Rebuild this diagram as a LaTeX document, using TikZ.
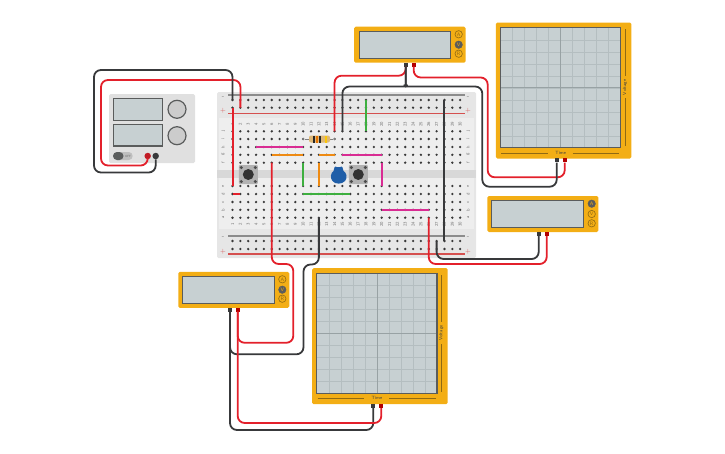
\documentclass[tikz,border=0pt]{standalone}
\usepackage{tikz}

\definecolor{gold}{HTML}{F3AE15}
\definecolor{golddark}{HTML}{8F6A14}
\definecolor{lcd}{HTML}{C7D0D2}
\definecolor{gridline}{HTML}{B4BEC0}
\definecolor{gridmid}{HTML}{98A2A4}
\definecolor{bezel}{HTML}{5A5C5C}
\definecolor{wirered}{HTML}{E3202B}
\definecolor{wireblack}{HTML}{38393B}
\definecolor{board}{HTML}{E6E6E6}
\definecolor{boardlight}{HTML}{EEEEEE}
\definecolor{groove}{HTML}{D8D8D8}
\definecolor{railred}{HTML}{D5504F}
\definecolor{wiremag}{HTML}{D92C93}
\definecolor{wireorange}{HTML}{EE8A12}
\definecolor{wiregreen}{HTML}{3DAF3F}
\definecolor{ledblue}{HTML}{1F5EA8}
\definecolor{restan}{HTML}{DDB878}

\begin{document}
\begin{tikzpicture}[x=1pt,y=-1pt]
\tikzset{panel/.style = {draw=none,fill=gold,rounded corners=1.5pt,inner sep=0pt}}
\tikzset{screen/.style = {draw=bezel,line width=1.2pt,fill=lcd,inner sep=0pt}}
\tikzset{dial/.style = {circle,draw=golddark,line width=0.6pt,minimum size=7.4pt,inner sep=0pt,font=\sffamily\fontsize{5}{5}\selectfont,text=golddark}}
\tikzset{dialon/.style = {dial,draw=bezel,fill=bezel,text=gold}}
\tikzset{blackpin/.style = {draw=none,fill=wireblack,minimum width=3.8pt,minimum height=4pt,inner sep=0pt}}
\tikzset{redpin/.style = {draw=none,fill=red!70!black,minimum width=3.8pt,minimum height=4pt,inner sep=0pt}}
\tikzset{hole/.style = {circle,fill=black!78,minimum size=2.6pt,inner sep=0pt}}
\tikzset{tiny/.style = {font=\sffamily\fontsize{4.5}{4.5}\selectfont,text=black!55,inner sep=0pt}}
\tikzset{scale label/.style = {font=\sffamily\fontsize{4.6}{4.6}\selectfont,text=black!75,inner sep=0pt}}
\tikzset{redwire/.style = {draw=wirered,line width=1.8pt,rounded corners=7pt}}
\tikzset{blackwire/.style = {draw=wireblack,line width=1.8pt,rounded corners=7pt}}
\tikzset{jumper/.style = {line width=2pt}}
\tikzset{knob/.style = {circle,draw=bezel,line width=1.2pt,fill=black!20,minimum size=18pt,inner sep=0pt}}
\tikzset{post/.style = {circle,minimum size=6.5pt,inner sep=0pt}}

\useasboundingbox (0,0) rectangle (725,453);

% breadboard
\node[fill=board,rounded corners=1.5pt,minimum width=259pt,minimum height=166pt,inner sep=0pt] (breadboard) at (346.5,175) {};
\fill[boardlight] (219,118) rectangle (474,170);
\fill[boardlight] (219,178) rectangle (474,229);
\fill[groove] (217,170) rectangle (476,178);
\draw[black!45,line width=1.1pt] (228,95) -- (465,95);
\draw[railred,line width=1.1pt] (228,113.5) -- (465,113.5);
\draw[black!45,line width=1.1pt] (228,236) -- (465,236);
\draw[railred,line width=1.1pt] (228,254) -- (465,254);
\foreach \col in {1,...,30} {
  \pgfmathsetmacro{\colx}{232.5+7.85*(\col-1)}
  \foreach \row/\rowy in {j/131.3,i/139,h/147,g/154.8,f/162.7,e/186,d/194,c/202,b/209.8,a/217.7,tm/100,tp/107.7,bm/241,bp/249} {
    \node[hole] (h\col\row) at (\colx,\rowy) {};
  }
  \node[tiny,rotate=90] (numtop\col) at (\colx,124) {\col};
  \node[tiny,rotate=90] (numbot\col) at (\colx,224.5) {\col};
}
\foreach \letter/\rowy in {j/131.3,i/139,h/147,g/154.8,f/162.7,e/186,d/194,c/202,b/209.8,a/217.7} {
  \node[tiny,rotate=90] (left\letter) at (223,\rowy) {\letter};
  \node[tiny,rotate=90] (right\letter) at (468,\rowy) {\letter};
}
\foreach \side/\sidex in {l/223,r/468} {
  \node[font=\sffamily\fontsize{7}{7}\selectfont,text=black!55,inner sep=0pt] (minustop\side) at (\sidex,98) {-};
  \node[font=\sffamily\fontsize{7}{7}\selectfont,text=railred,inner sep=0pt] (plustop\side) at (\sidex,111) {+};
  \node[font=\sffamily\fontsize{7}{7}\selectfont,text=black!55,inner sep=0pt] (minusbot\side) at (\sidex,238) {-};
  \node[font=\sffamily\fontsize{7}{7}\selectfont,text=railred,inner sep=0pt] (plusbot\side) at (\sidex,252) {+};
}

% power supply
\node[fill=black!12,rounded corners=1.5pt,minimum width=86pt,minimum height=69pt,inner sep=0pt] (supply) at (152,128.5) {};
\node[screen,minimum width=49pt,minimum height=21.5pt] (supplyA) at (137.7,109.5) {};
\node[screen,minimum width=49pt,minimum height=21.5pt] (supplyB) at (137.7,135.3) {};
\node[knob] (knobA) at (177,109.3) {};
\node[knob] (knobB) at (177,135.7) {};
\fill[black!25,rounded corners=4pt] (113,152) rectangle (132.7,160);
\fill[bezel,rounded corners=4pt] (113,152) rectangle (123.5,160);
\node[font=\sffamily\fontsize{3}{3}\selectfont,text=black!60,inner sep=0pt] (switchtext) at (128,156) {OFF};
\node[post,fill=wirered!85!black] (supplyred) at (147.7,156) {};
\node[post,fill=wireblack] (supplyblack) at (155.7,156) {};

% multimeters
\node[panel,minimum width=111.5pt,minimum height=36pt] (meterA) at (409.8,44.7) {};
\node[screen,minimum width=91.5pt,minimum height=26.6pt] (lcdA) at (404.9,44.8) {};
\node[dial] (meterAa) at (458.7,34.3) {A};
\node[dialon] (meterAv) at (458.7,44.7) {V};
\node[dial] (meterAr) at (458.7,53.7) {R};
\node[blackpin] (blackA) at (405.7,64.5) {};
\node[redpin] (redA) at (413.7,64.5) {};

\node[panel,minimum width=111pt,minimum height=36pt] (meterB) at (542.8,214) {};
\node[screen,minimum width=92pt,minimum height=26.6pt] (lcdB) at (537.5,214) {};
\node[dialon] (meterBa) at (591.7,203.7) {A};
\node[dial] (meterBv) at (591.7,214) {V};
\node[dial] (meterBr) at (591.7,223.3) {R};
\node[blackpin] (blackB) at (538.7,234) {};
\node[redpin] (redB) at (546.7,234) {};

\node[panel,minimum width=111pt,minimum height=36pt] (meterC) at (233.8,289.8) {};
\node[screen,minimum width=92pt,minimum height=26.6pt] (lcdC) at (228.7,289.8) {};
\node[dial] (meterCa) at (282.3,279.3) {A};
\node[dialon] (meterCv) at (282.3,289.7) {V};
\node[dial] (meterCr) at (282.3,298.7) {R};
\node[blackpin] (blackC) at (230,309.5) {};
\node[redpin] (redC) at (237.7,309.5) {};

% oscilloscopes
\foreach \sc/\sx/\sy in {A/495.7/22.3,B/312/268} {
  \node[panel,anchor=north west,minimum width=135.5pt,minimum height=136pt] (scope\sc) at (\sx,\sy) {};
  \begin{scope}[shift={(\sx,\sy)}]
    \fill[lcd] (4.8,5.4) rectangle (125,125.4);
    \foreach \g in {1,...,9} {
      \draw[gridline,line width=0.4pt] (4.8+12*\g,5.4) -- (4.8+12*\g,125.4);
      \draw[gridline,line width=0.4pt] (4.8,5.4+12*\g) -- (125,5.4+12*\g);
    }
    \draw[gridmid,line width=0.6pt] (64.9,5.4) -- (64.9,125.4);
    \draw[gridmid,line width=0.6pt] (4.8,65.4) -- (125,65.4);
    \draw[bezel,line width=1.2pt] (4.8,5.4) rectangle (125,125.4);
    \draw[golddark,line width=0.5pt] (5.5,130.5) -- (52,130.5);
    \draw[golddark,line width=0.5pt] (77,130.5) -- (123.5,130.5);
    \draw[golddark,line width=0.5pt] (129.3,7) -- (129.3,54);
    \draw[golddark,line width=0.5pt] (129.3,76) -- (129.3,124);
    \node[scale label] (time\sc) at (65,130.3) {Time};
    \node[scale label,rotate=90] (volt\sc) at (129.3,65) {Voltage};
  \end{scope}
}
\node[blackpin] (blackD) at (556.7,160.3) {};
\node[redpin] (redD) at (564.7,160.3) {};
\node[blackpin] (blackE) at (373.3,406) {};
\node[redpin] (redE) at (381.3,406) {};

% parts on the board
\foreach \nm/\bx in {A/248.3,B/358.3} {
  \node[fill=black!30,rounded corners=1pt,minimum size=19pt,inner sep=0pt] (button\nm) at (\bx,174.5) {};
  \foreach \dx/\dy in {-7/-7,7/-7,-7/7,7/7} {
    \fill[black!70] (\bx+\dx,174.5+\dy) circle (1.7pt);
  }
  \node[circle,fill=black!80,minimum size=11pt,inner sep=0pt] (cap\nm) at (\bx,174.5) {};
}
\node[circle,minimum size=14pt,inner sep=0pt] (led) at (338.7,175) {};
\fill[ledblue] (333.5,171) .. controls (334,168) and (335,166) .. (335.5,166.5) .. controls (336.5,167.5) and (340.5,167.5) .. (341.5,166.5) .. controls (342,166) and (343,168) .. (343.5,171) .. controls (347,173) and (347.5,178) .. (345,181) .. controls (342,184.5) and (335,184.5) .. (332.5,181) .. controls (330,178) and (330.5,173) .. (333.5,171) -- cycle;

\draw[black!50,line width=0.8pt] (h10i) -- (h14i);
\fill[black!50] (h10i) circle (1.3pt) (h14i) circle (1.3pt);
\node[fill=restan,rounded corners=2pt,minimum width=21pt,minimum height=7pt,inner sep=0pt] (resistor) at (319.5,139) {};
\fill[black!85] (313,135.5) rectangle (314.6,142.5);
\fill[orange!90!black] (316.2,135.5) rectangle (317.8,142.5);
\fill[black!85] (319.4,135.5) rectangle (321,142.5);
\fill[yellow!60!orange] (325,135.5) rectangle (326.6,142.5);

% jumpers
\draw[wiremag,jumper] (h4h.center) -- (h10h.center);
\draw[wiremag,jumper] (h15g.center) -- (h20g.center);
\draw[wiremag,jumper] (h20f.center) -- (h20e.center);
\draw[wiremag,jumper] (h20b.center) -- (h26b.center);
\draw[wireorange,jumper] (h6g.center) -- (h10g.center);
\draw[wireorange,jumper] (h12g.center) -- (h14g.center);
\draw[wireorange,jumper] (h12f.center) -- (h12e.center);
\draw[wiregreen,jumper] (h10f.center) -- (h10e.center);
\draw[wiregreen,jumper] (h10d.center) -- (h16d.center);
\draw[wiregreen,jumper] (h18tm.center) -- (h18j.center);
\draw[wirered,jumper] (h1tp.center) -- (h1e.center);
\draw[wirered,jumper] (h1d.center) -- (h2d.center);
\draw[wireblack,jumper] (h28tm.center) -- (h28bm.center);

% long wires
\draw[redwire] (supplyred) |- (101,165.5) |- (240.5,80) -- (h2tp.center);
\draw[blackwire] (supplyblack) |- (94,172.5) |- (232.5,70) -- (h1tm.center);
\draw[redwire] (h14j.center) |- (405.7,75.7) -- (blackA);
\draw[redwire] (redA) |- (487.7,77.5) |- (564.7,177.3) -- (redD);
\draw[blackwire] (h15j.center) |- (398,86.5) .. controls (403,86.5) and (405.7,84) .. (405.7,78) -- (blackA);
\draw[blackwire] (blackA) -- (405.7,78) .. controls (405.7,84) and (408.4,86.5) .. (413.4,86.5) -| (482.3,186.7) -| (blackD);
\draw[blackwire] (h27bm.center) |- (538.7,259) -- (blackB);
\draw[redwire] (h26a.center) |- (546.7,264) -- (redB);
\draw[redwire] (h6f.center) |- (293.3,264) |- (237.7,342.8) -- (redC);
\draw[blackwire] (h12a.center) |- (303.5,264.5) |- (230,354.3) -- (blackC);
\draw[blackwire] (blackC) |- (373.3,430) -- (blackE);
\draw[redwire] (redC) |- (381.3,423) -- (redE);

\end{tikzpicture}
\end{document}
